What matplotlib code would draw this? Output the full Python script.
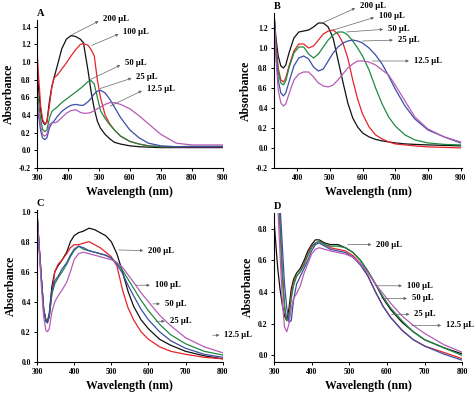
import numpy as np
import matplotlib
matplotlib.use("Agg")
import matplotlib.pyplot as plt
from matplotlib.ticker import FormatStrFormatter

plt.rcParams['font.family'] = ['Liberation Serif', 'DejaVu Serif']
plt.rcParams['font.weight'] = 'bold'

volumes = ["200 µL", "100 µL", "50 µL", "25 µL", "12.5 µL"]
colors = ["#111111", "#e5232a", "#1f8a40", "#3b4ea6", "#b65cb8"]

# ---- panel A ----
wl_a = [300, 305, 312, 318, 325, 332, 340, 348, 355, 365, 380, 395, 410, 425, 440, 450,
        465, 475, 485, 495, 505, 520, 535, 550, 570, 600, 630, 660, 700, 750, 800, 900]
a_200 = [0.95, 0.70, 0.45, 0.33, 0.29, 0.32, 0.55, 0.72, 0.82, 0.95, 1.15, 1.26, 1.30, 1.29, 1.26, 1.22,
         0.90, 0.66, 0.47, 0.33, 0.25, 0.18, 0.13, 0.09, 0.07, 0.05, 0.04, 0.035, 0.03, 0.03, 0.03, 0.03]
a_100 = [1.15, 0.85, 0.50, 0.35, 0.30, 0.32, 0.50, 0.72, 0.82, 0.85, 0.92, 0.99, 1.07, 1.14, 1.20, 1.21,
         1.19, 1.14, 1.07, 0.80, 0.60, 0.40, 0.30, 0.23, 0.16, 0.10, 0.07, 0.05, 0.04, 0.04, 0.04, 0.04]
a_50 = [0.75, 0.55, 0.35, 0.24, 0.21, 0.23, 0.36, 0.44, 0.46, 0.49, 0.54, 0.58, 0.62, 0.66, 0.70, 0.73,
        0.78, 0.79, 0.75, 0.60, 0.45, 0.36, 0.29, 0.23, 0.16, 0.10, 0.07, 0.05, 0.04, 0.04, 0.045, 0.045]
a_25 = [0.55, 0.40, 0.22, 0.14, 0.12, 0.14, 0.25, 0.31, 0.33, 0.38, 0.44, 0.48, 0.51, 0.52, 0.51, 0.51,
        0.55, 0.59, 0.64, 0.67, 0.68, 0.65, 0.58, 0.49, 0.37, 0.23, 0.14, 0.08, 0.05, 0.04, 0.04, 0.04]
a_12 = [0.60, 0.45, 0.27, 0.18, 0.16, 0.18, 0.29, 0.31, 0.31, 0.32, 0.37, 0.42, 0.45, 0.46, 0.43, 0.42,
        0.42, 0.43, 0.45, 0.47, 0.49, 0.52, 0.54, 0.54, 0.52, 0.47, 0.39, 0.30, 0.18, 0.08, 0.06, 0.06]

# ---- panel B ----
wl_b = [330, 335, 342, 350, 358, 365, 375, 390, 405, 420, 435, 450, 465, 480, 495, 510,
        525, 540, 555, 570, 585, 600, 620, 640, 660, 680, 700, 730, 760, 800, 850, 900]
b_200 = [1.30, 1.10, 0.92, 0.82, 0.80, 0.83, 0.95, 1.10, 1.16, 1.17, 1.18, 1.21, 1.25, 1.25, 1.21, 1.10,
         0.88, 0.66, 0.45, 0.30, 0.21, 0.15, 0.11, 0.085, 0.07, 0.06, 0.05, 0.04, 0.035, 0.03, 0.025, 0.02]
b_100 = [1.30, 1.05, 0.80, 0.68, 0.66, 0.70, 0.82, 0.97, 1.04, 1.04, 1.00, 1.02, 1.08, 1.14, 1.17, 1.18,
         1.14, 1.05, 0.90, 0.68, 0.49, 0.34, 0.21, 0.13, 0.09, 0.06, 0.04, 0.03, 0.02, 0.01, 0.005, 0.0]
b_50 = [1.30, 1.00, 0.76, 0.65, 0.63, 0.67, 0.80, 0.95, 1.01, 1.01, 0.94, 0.90, 0.94, 1.01, 1.08, 1.13,
        1.16, 1.16, 1.13, 1.07, 1.00, 0.92, 0.78, 0.60, 0.44, 0.31, 0.22, 0.13, 0.08, 0.05, 0.035, 0.03]
b_25 = [1.30, 0.95, 0.68, 0.55, 0.52, 0.55, 0.66, 0.82, 0.90, 0.92, 0.89, 0.81, 0.77, 0.79, 0.87, 0.95,
        1.01, 1.05, 1.07, 1.08, 1.07, 1.05, 1.00, 0.93, 0.84, 0.72, 0.59, 0.42, 0.29, 0.18, 0.11, 0.05]
b_12 = [1.30, 0.90, 0.58, 0.45, 0.42, 0.44, 0.54, 0.68, 0.74, 0.76, 0.76, 0.71, 0.65, 0.62, 0.61, 0.63,
        0.68, 0.74, 0.80, 0.84, 0.87, 0.87, 0.86, 0.83, 0.78, 0.73, 0.63, 0.47, 0.31, 0.19, 0.11, 0.06]

# ---- panel C ----
wl_c = [300, 305, 312, 318, 324, 328, 333, 340, 348, 357, 368, 380, 390, 400, 412, 425,
        440, 455, 470, 485, 500, 515, 530, 545, 560, 580, 600, 630, 660, 700, 750, 800]
c_200 = [1.0, 0.80, 0.55, 0.35, 0.28, 0.27, 0.32, 0.50, 0.60, 0.64, 0.68, 0.73, 0.80, 0.84, 0.86, 0.87,
         0.89, 0.88, 0.86, 0.84, 0.80, 0.72, 0.60, 0.47, 0.37, 0.28, 0.22, 0.15, 0.11, 0.07, 0.04, 0.02]
c_100 = [1.0, 0.80, 0.55, 0.35, 0.27, 0.26, 0.30, 0.45, 0.60, 0.65, 0.68, 0.72, 0.76, 0.78, 0.78, 0.79,
         0.80, 0.78, 0.76, 0.73, 0.70, 0.64, 0.48, 0.36, 0.28, 0.20, 0.15, 0.10, 0.07, 0.05, 0.03, 0.02]
c_50 = [1.0, 0.80, 0.55, 0.35, 0.27, 0.26, 0.30, 0.45, 0.52, 0.56, 0.60, 0.65, 0.70, 0.74, 0.77, 0.75,
        0.74, 0.73, 0.72, 0.71, 0.69, 0.66, 0.61, 0.55, 0.49, 0.41, 0.34, 0.25, 0.18, 0.12, 0.07, 0.045]
c_25 = [1.0, 0.80, 0.55, 0.35, 0.27, 0.26, 0.31, 0.47, 0.54, 0.57, 0.62, 0.66, 0.71, 0.75, 0.77, 0.76,
        0.74, 0.73, 0.72, 0.71, 0.69, 0.65, 0.59, 0.51, 0.44, 0.35, 0.28, 0.20, 0.14, 0.09, 0.05, 0.03]
c_12 = [1.0, 0.78, 0.50, 0.30, 0.21, 0.20, 0.22, 0.33, 0.40, 0.44, 0.48, 0.53, 0.60, 0.68, 0.72, 0.73,
        0.72, 0.71, 0.70, 0.69, 0.68, 0.66, 0.63, 0.58, 0.53, 0.46, 0.40, 0.31, 0.24, 0.16, 0.10, 0.06]

# ---- panel D ----
wl_d = [300, 305, 310, 316, 322, 328, 334, 340, 346, 352, 360, 370, 380, 390, 400, 410,
        420, 435, 450, 470, 490, 510, 530, 550, 570, 590, 610, 640, 670, 700, 750, 800]
d_200 = [0.86, 0.70, 0.55, 0.42, 0.32, 0.25, 0.22, 0.30, 0.42, 0.48, 0.52, 0.55, 0.60, 0.66, 0.70, 0.73,
         0.73, 0.71, 0.70, 0.70, 0.68, 0.65, 0.60, 0.53, 0.45, 0.36, 0.29, 0.21, 0.15, 0.10, 0.05, 0.01]
d_100 = [1.30, 1.20, 1.05, 0.80, 0.50, 0.30, 0.22, 0.25, 0.38, 0.46, 0.50, 0.53, 0.58, 0.64, 0.69, 0.71,
         0.72, 0.70, 0.68, 0.67, 0.66, 0.63, 0.58, 0.50, 0.40, 0.31, 0.24, 0.16, 0.10, 0.06, 0.02, -0.02]
d_50 = [1.30, 1.20, 1.05, 0.85, 0.55, 0.32, 0.22, 0.24, 0.36, 0.44, 0.50, 0.53, 0.57, 0.63, 0.68, 0.71,
        0.72, 0.70, 0.69, 0.69, 0.68, 0.65, 0.60, 0.53, 0.45, 0.37, 0.30, 0.22, 0.15, 0.10, 0.05, 0.0]
d_25 = [1.30, 1.25, 1.15, 0.95, 0.70, 0.45, 0.30, 0.21, 0.22, 0.35, 0.45, 0.50, 0.55, 0.60, 0.66, 0.70,
        0.71, 0.69, 0.67, 0.66, 0.65, 0.62, 0.57, 0.50, 0.40, 0.31, 0.24, 0.16, 0.10, 0.06, 0.01, -0.03]
d_12 = [1.30, 1.15, 0.95, 0.65, 0.35, 0.18, 0.15, 0.20, 0.30, 0.36, 0.39, 0.44, 0.52, 0.58, 0.64, 0.67,
        0.68, 0.67, 0.66, 0.65, 0.64, 0.62, 0.58, 0.52, 0.45, 0.39, 0.33, 0.25, 0.19, 0.14, 0.07, 0.02]

# label anchors: (curve x, curve y, text x, text y)
ann_a = [(413, 1.31, 514, 1.49), (477, 1.19, 579, 1.34), (471, 0.80, 584, 0.99),
         (504, 0.70, 621, 0.835), (536, 0.50, 654, 0.70)]
ann_b = [(477, 1.25, 592, 1.42), (510, 1.18, 650, 1.32), (550, 1.16, 678, 1.19),
         (600, 1.07, 708, 1.08), (630, 0.87, 757, 0.87)]
ann_c = [(520, 0.745, 599, 0.74), (565, 0.51, 617, 0.51), (612, 0.386, 644, 0.386),
         (620, 0.27, 657, 0.27), (773, 0.177, 804, 0.177)]
ann_d = [(496, 0.70, 572, 0.70), (568, 0.44, 653, 0.44), (586, 0.36, 666, 0.36),
         (612, 0.26, 673, 0.26), (666, 0.19, 757, 0.19)]

panels = [
    ("A", [0.078, 0.575, 0.392, 0.375], wl_a, [a_200, a_100, a_50, a_25, a_12], ann_a,
     (300, 900), (-0.2, 1.48), np.arange(300, 901, 100), np.arange(-0.2, 1.41, 0.2)),
    ("B", [0.578, 0.575, 0.397, 0.392], wl_b, [b_200, b_100, b_50, b_25, b_12], ann_b,
     (329, 905), (-0.2, 1.35), np.arange(400, 901, 100), np.arange(-0.2, 1.21, 0.2)),
    ("C", [0.078, 0.084, 0.392, 0.384], wl_c, [c_200, c_100, c_50, c_25, c_12], ann_c,
     (300, 800), (0.0, 1.01), np.arange(300, 801, 100), np.arange(0.0, 1.01, 0.2)),
    ("D", [0.578, 0.084, 0.397, 0.377], wl_d, [d_200, d_100, d_50, d_25, d_12], ann_d,
     (300, 800), (-0.04, 0.9), np.arange(300, 801, 100), np.arange(0.0, 0.81, 0.2)),
]

fig = plt.figure(figsize=(4.74, 3.95), dpi=100)

for letter, rect, wl, series, ann, xl, yl, xt, yt in panels:
    ax = fig.add_axes(rect)
    for vals, c in zip(series, colors):
        ax.plot(wl, vals, color=c, lw=0.9)
    ax.set_xlim(*xl)
    ax.set_ylim(*yl)
    ax.set_xticks(xt)
    ax.set_yticks(yt)
    ax.yaxis.set_major_formatter(FormatStrFormatter('%.1f'))
    ax.spines['top'].set_visible(False)
    ax.spines['right'].set_visible(False)
    ax.tick_params(labelsize=5.5, length=2.5, width=0.7, pad=2)
    for lbl in ax.get_xticklabels() + ax.get_yticklabels():
        lbl.set_fontweight('bold')
    ax.set_xlabel("Wavelength (nm)", fontsize=8.5, fontweight='bold', labelpad=3)
    ax.set_ylabel("Absorbance", fontsize=8.5, fontweight='bold', labelpad=3)
    ax.text(0.0, 1.015, letter, transform=ax.transAxes, fontsize=7.5,
            fontweight='bold', ha='left', va='bottom')
    for (cx, cy, tx, ty), name in zip(ann, volumes):
        ax.annotate(name, xy=(cx, cy), xytext=(tx, ty), fontsize=6.2,
                    fontweight='bold', ha='left', va='center', annotation_clip=False,
                    arrowprops=dict(arrowstyle='<|-', color='#666666', lw=0.5,
                                    mutation_scale=4, shrinkA=1.5, shrinkB=0,
                                    relpos=(0, 0.5)))

fig.savefig("out.png", dpi=100)
